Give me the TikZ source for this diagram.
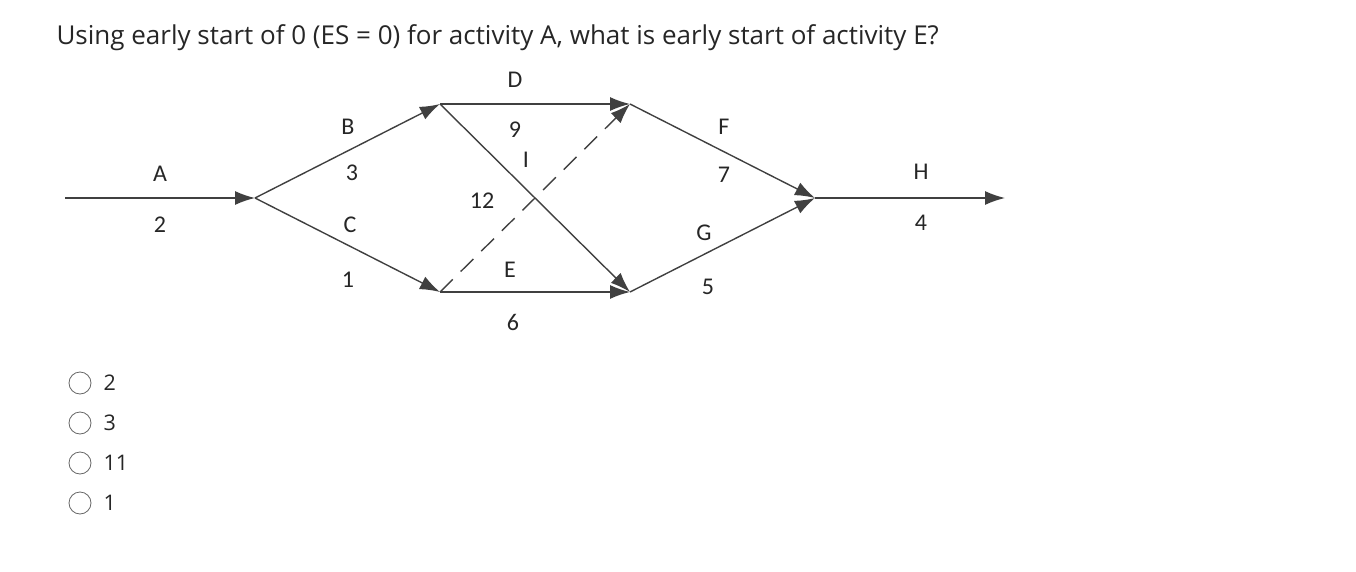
\documentclass[tikz,border=0pt]{standalone}
\usepackage{fontspec}
\setmainfont{Open Sans}
\newfontfamily\calib{Carlito}
\usetikzlibrary{arrows.meta}
\begin{document}
\begin{tikzpicture}[x=1pt,y=-1pt,
  edge/.style={draw=black!75,line width=1.4pt,-{Latex[length=20pt,width=14pt]}},
  dum/.style={edge,dash pattern=on 18pt off 11pt},
  lab/.style={font=\calib\fontsize{24}{26}\selectfont,text=black!85},
  opt/.style={circle,draw=black!60,line width=0.8pt,minimum size=22pt,inner sep=0pt},
  optt/.style={anchor=west,font=\fontsize{21.5}{24}\selectfont,text=black!85}]
\useasboundingbox (0,0) rectangle (1356,572);
\node[anchor=west,font=\fontsize{26}{28}\selectfont,text=black!85] (title) at (53,38) {Using early start of 0 (ES = 0) for activity A, what is early start of activity E?};
\coordinate (s) at (65,198);
\coordinate (n1) at (255,198);
\coordinate (n2) at (440,104);
\coordinate (n3) at (440,292);
\coordinate (n4) at (630,104);
\coordinate (n5) at (630,292);
\coordinate (n6) at (815,198);
\coordinate (e) at (1005,198);
\draw[edge] (s) -- (n1);
\draw[edge] (n1) -- (n2);
\draw[edge] (n1) -- (n3);
\draw[edge] (n2) -- (n4);
\draw[edge] (n3) -- (n5);
\draw[edge] (n2) -- (n5);
\draw[dum] (n3) -- (n4);
\draw[edge] (n4) -- (n6);
\draw[edge] (n5) -- (n6);
\draw[edge] (n6) -- (e);
\node[lab] (lA) at (160,174) {A};
\node[lab] (l2) at (160,225) {2};
\node[lab] (lB) at (348,127) {B};
\node[lab] (l3) at (352,173) {3};
\node[lab] (lC) at (350,225) {C};
\node[lab] (l1) at (348,280) {1};
\node[lab] (lD) at (515,80) {D};
\node[lab] (l9) at (515,130) {9};
\node[lab] (lI) at (526,160) {I};
\node[lab] (l12) at (482,201) {12};
\node[lab] (lE) at (510,270) {E};
\node[lab] (l6) at (513,322) {6};
\node[lab] (lF) at (724,127) {F};
\node[lab] (l7) at (724,175) {7};
\node[lab] (lG) at (704,233) {G};
\node[lab] (l5) at (708,287) {5};
\node[lab] (lH) at (921,172) {H};
\node[lab] (l4) at (921,223) {4};
\foreach \y/\t [count=\i] in {383/2,423/3,463/11,503/1}{
  \node[opt] (c\i) at (80,\y) {};
  \node[optt] (o\i) at (100,\y) {\t};
}
\end{tikzpicture}
\end{document}
